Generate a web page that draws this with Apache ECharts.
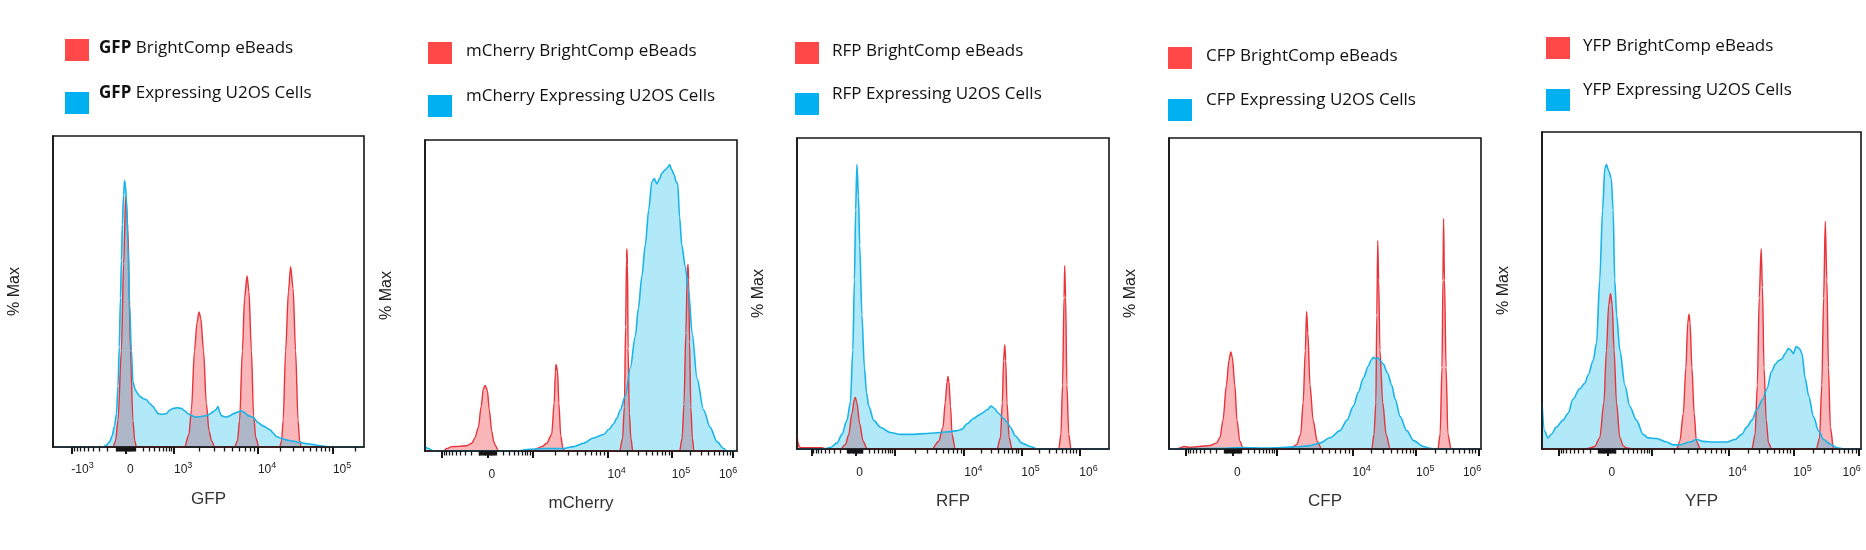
<!DOCTYPE html>
<html>
<head>
<meta charset="utf-8">
<script src="https://cdn.jsdelivr.net/npm/echarts@6/dist/echarts.min.js"></script>
<style>
  html, body { margin: 0; padding: 0; background: #fff; }
  #chart { width: 1866px; height: 550px; }
</style>
</head>
<body>
<div id="chart"></div>
<script>
// x is in display channels (0..1000 across each plot box), y is % of the box height

// fluorescence values used to calibrate the biex display of each panel
const scaleValues = [-1000, 0, 1000, 1e4, 1e5, 1e6];
const gfpScale = [59, 235, 389, 659, 900, 1141];
const mcherryScale = [53, 200, 344, 585, 791, 987];
const rfpScale = [46, 187, 312, 536, 719, 905];
const cfpScale = [53, 205, 345, 588, 792, 992];
const yfpScale = [52, 205, 343, 584, 788, 993];

// labelled ticks
const gfpTickLabels = [-1000, 0, 1000, 1e4, 1e5];
const otherTickLabels = [0, 1e4, 1e5, 1e6];

const gfpBeads = [[0,0],[193,0],[201,2],[209,8.5],[220,31],[227,59],[234,80.6],[241,70],[249,31],[257,8.5],[263,2],[268,0],
  [423,0],[437,4],[445,12],[455,31],[463,40],[469.5,43.4],[475,41.5],[484,31],[493,14],[502,5],[510,2],[520,0],
  [584,0],[593,2],[600,8.5],[609,31],[616,48],[624,55],[630,50],[638,31],[645,10],[652,3],[662,0],
  [729,0],[735,2],[740,8.5],[748,31],[757,50],[764,58],[772,51],[780,31],[788,8.5],[793,2],[798,0],[1000,0]];
const gfpCells = [[0,0],[161,0],[172,0.6],[182,1.7],[190,3.5],[198,6.8],[204,10.7],[209,19.7],[213,32],[217,48],[220,60],
  [223,71.6],[227,81],[230,85.7],[233,84],[236,80],[241,65],[246,46],[252,31],[257,21],[265,18.3],[272,17.2],[279,16.3],
  [290,15.6],[300,15.2],[311,14],[322,13],[330,11.8],[338,10.7],[350,10.5],[364,10.7],[375,11.8],[386,12.4],[400,12.6],
  [413,12.4],[424,11.6],[434,10.7],[447,10],[461,9.6],[477,9.8],[493,10.1],[504,10.6],[514,11.3],[524,12],[531,13],
  [536,11.2],[541,10.1],[549,9.8],[557,9.6],[568,10],[579,10.7],[593,11.2],[606,11.6],[617,11],[627,10.1],[643,9.6],
  [659,7.9],[675,6.8],[697,5.6],[708,4.5],[718,3.4],[734,2.8],[750,2.3],[771,1.9],[793,1.5],[815,1.1],[836,0.8],
  [852,0.5],[868,0.3],[890,0],[1000,0]];

const mcherryBeads = [[0,0],[60,0],[70,0.8],[86,1.4],[110,1.5],[134,1.7],[150,2.5],[160,4.2],[171,7.6],[180,14.3],[187,20],
  [192.5,21.1],[200,19.4],[206,13.2],[214,6.4],[220,3.2],[225,1.9],[235,0],
  [350,0],[358,0.8],[374,1.4],[390,2.5],[406,5.3],[414,15.4],[418,25.6],[420,27.8],[425,25.6],[429,15.4],[435,5],[442,0.8],[449,0],
  [624,0],[633,4],[639,14],[643,40],[646,62],[647,65],[649,60],[651,33],[655,12],[660,4],[666,0],
  [816,0],[824,4],[830,15],[836,38],[841,58],[843,60],[845,55],[848,35],[852,14],[857,4],[862,0],[1000,0]];
const mcherryCells = [[0,1.4],[10,0.8],[27,0],[300,0],[326,0.5],[380,0.8],[444,0.8],[476,1.4],[508,2.5],[540,4.2],[572,5.3],
  [590,7],[604,8.7],[615,10.5],[626,13.2],[642,17.7],[658,26.7],[674,36.9],[684,45.9],[695,56],[706,66.2],[717,77.5],
  [727,86.5],[735,87.6],[743,85.9],[752,87.6],[759,89.3],[770,90.4],[778,91.2],[784,92.1],[791,90.4],[799,88.7],
  [805,86.5],[810,85.9],[816,75.2],[823,66.2],[834,59.4],[845,51.5],[856,38],[872,23.3],[893,13.2],[914,7.6],[936,3],
  [957,0.8],[968,0],[1000,0]];

const rfpBeads = [[0,5],[3,2],[8,0.6],[16,0.4],[80,0.4],[95,0],[139,0],[155,1.4],[166,4.7],[176,11.5],[184,16],[187,16.6],
  [192,14.9],[201,8.1],[212,2.5],[224,0.2],[235,0],
  [433,0],[454,2.5],[468,7],[475,14.9],[481,21.6],[484,23.3],[487,21.6],[492,13.8],[497,4.7],[507,0],
  [641,0],[652,3.6],[658,14.9],[662,28.4],[666,33.5],[669,28.4],[673,14.9],[680,3.6],[689,0],
  [839,0],[846,4.7],[851,20.5],[856,48.7],[858,58.9],[861,48.7],[865,20.5],[871,4.7],[878,0],[1000,0]];
const rfpCells = [[0,0],[85,0],[107,0.5],[128,1.9],[144,4.7],[160,9.2],[171,14.9],[179,31.8],[184,54.3],[188,76.9],
  [192,91.5],[197,81.4],[201,65.6],[208,43.1],[216,26.2],[223,18],[230,13.8],[246,9.2],[267,7],[299,5.3],[331,4.7],
  [374,4.7],[417,5],[459,5.3],[491,5.6],[513,5.9],[529,6.4],[545,8.1],[566,9.8],[583,10.9],[593,11.5],[609,12.6],
  [622,13.8],[631,13.2],[646,11.5],[662,9.8],[673,8.7],[684,7],[700,4.2],[721,1.9],[748,0.8],[769,0],[1000,0]];

const cfpBeads = [[0,0],[25,0],[29,0.2],[50,0.8],[66,0.5],[98,0.8],[131,1.1],[152,1.9],[163,3.6],[173,9.2],[184,20.5],
  [192,28.4],[198,31.2],[203,29.5],[211,20.5],[218,9.2],[227,2.5],[238,0],
  [388,0],[409,1.4],[422,4.7],[430,14.9],[437,31.8],[441,44.2],[445,37.4],[452,20.5],[462,9.2],[475,2.5],[489,0],
  [650,0],[657,4.7],[663,14.9],[666,43.1],[669,67],[672,54.3],[676,31.8],[685,14.9],[696,4.7],[709,0],
  [862,0],[869,4.7],[875,26.2],[878,54.3],[880,74.1],[883,54.3],[888,26.2],[894,4.7],[904,0],[1000,0]];
const cfpCells = [[0,0],[184,0.2],[238,0.5],[313,0.3],[366,0.5],[409,0.7],[452,1.1],[484,1.9],[516,3.6],[548,5.9],
  [570,9.2],[591,13.8],[607,18.3],[623,22.8],[639,26.7],[648,28.6],[655,29.5],[662,29],[670,29.3],[677,28.4],
  [687,27.3],[700,24.5],[714,20.5],[725,16],[741,10.4],[762,5.9],[784,2.7],[816,0.8],[837,0.2],[859,0],[1000,0]];

const yfpBeads = [[0,0],[139,0],[150,0.3],[165,0.8],[181,3.5],[194,14.6],[202,31.2],[209,45.5],[215,49.1],[220,45.5],
  [226,31.2],[233.5,14.6],[244,3.5],[255,1],[265,0.3],[286,0],
  [422,0],[432,2.4],[443,11.3],[451,25.6],[457,40],[461,42.5],[464,40],[470,25.6],[477,11.3],[484,2.4],[497,0],
  [658,0],[668,4.6],[675,20.1],[681,47.7],[687,63.2],[691,51],[696,25.6],[703,9.1],[710,1.9],[720,0],
  [860,0],[870,3.5],[877,20.1],[883,47.7],[888,71.8],[893,53.3],[898,25.6],[904,6.9],[914,0],[1000,0]];
const yfpCells = [[0,14.6],[8,5.7],[19,3.5],[29,4.6],[45,6.9],[66,9.1],[82,11.3],[97,15.7],[118,19],[134,20.7],
  [145,23.4],[160,27.8],[171,33.4],[181,53.3],[190,75.4],[197,88.6],[202,89.7],[210,87.5],[217,85.3],[223,75.4],
  [228,53.3],[234,42.2],[244,31.2],[260,20.1],[275,13.5],[296,9.1],[317,4.6],[333,3.5],[359,3.3],[391,2.2],
  [412,1.3],[432,1.3],[464,2.2],[485,3],[506,2.4],[537,2.2],[579,2.2],[605,3],[626,4.6],[642,6.9],[658,9.1],
  [673,12.4],[692,15.7],[705,19],[720,24.5],[731,26.7],[741,27.8],[752,28.4],[762,30.1],[772,31.7],[780,31.2],
  [788,30.1],[797,32.3],[807,31.7],[815,30.1],[825,22.3],[836,16.8],[851,10.2],[867,5.7],[883,3],[904,1.5],
  [925,0.4],[946,0],[1000,0]];

const panels = [
  { name: 'GFP', axisName: 'GFP', scale: gfpScale, labels: gfpTickLabels, beads: gfpBeads, cells: gfpCells, bold: true },
  { name: 'mCherry', axisName: 'mCherry', scale: mcherryScale, labels: otherTickLabels, beads: mcherryBeads, cells: mcherryCells },
  { name: 'RFP', axisName: 'RFP', scale: rfpScale, labels: otherTickLabels, beads: rfpBeads, cells: rfpCells },
  { name: 'CFP', axisName: 'CFP', scale: cfpScale, labels: otherTickLabels, beads: cfpBeads, cells: cfpCells },
  { name: 'YFP', axisName: 'YFP', scale: yfpScale, labels: otherTickLabels, beads: yfpBeads, cells: yfpCells },
];

// plot boxes and legend placement
const layout = [
  { left: 53, top: 136, width: 311, height: 311, legendLeft: 65, legendTop: [39, 92], textGap: 5, labelMargin: 8 },
  { left: 425, top: 140, width: 312, height: 311, legendLeft: 428, legendTop: [42, 95], textGap: 9, labelMargin: 9 },
  { left: 797, top: 138, width: 312, height: 311, legendLeft: 795, legendTop: [42, 93], textGap: 8, labelMargin: 9 },
  { left: 1169, top: 138, width: 312, height: 311, legendLeft: 1168, legendTop: [47, 99], textGap: 9, labelMargin: 9 },
  { left: 1542, top: 132, width: 319, height: 317, legendLeft: 1546, legendTop: [37, 89], textGap: 8, labelMargin: 9 },
];

const beadsSwatch = '#ff4848';
const cellsSwatch = '#00b0f0';
const axisFont = 'Liberation Sans';
const legendFont = 'Open Sans';
const labelRoom = 58; // channels a "10^n" label needs before the right edge

// biex-like display: log between decades, asinh through zero
function toChannel(scale, v) {
  for (let i = 0; i < scaleValues.length - 1; i++) {
    const a = scaleValues[i], b = scaleValues[i + 1];
    if (v < a || v > b) continue;
    const pa = scale[i], pb = scale[i + 1];
    if (a > 0) return pa + (pb - pa) * Math.log10(v / a);
    const w = 250;
    if (a === 0) return pa + (pb - pa) * Math.asinh(v / w) / Math.asinh(b / w);
    return pb + (pa - pb) * Math.asinh(-v / w) / Math.asinh(-a / w);
  }
  return NaN;
}

function inBox(p) { return p >= 0 && p <= 1000; }

function majorTicks(scale) {
  return scaleValues.map(v => toChannel(scale, v)).filter(inBox);
}

function minorTicks(scale) {
  const out = [];
  for (let k = 1; k <= 5; k++) {
    for (let m = 1; m <= 9; m++) {
      const v = m * Math.pow(10, k);
      [v, -v].forEach(x => {
        if (scaleValues.indexOf(x) >= 0) return;
        const p = toChannel(scale, x);
        if (inBox(p)) out.push(p);
      });
    }
  }
  return out;
}

// labels start at their tick (pushed back inside near the right edge), exponent raised
function tickText(v) {
  if (v === 0) return '{z|0}';
  const exp = Math.round(Math.log10(Math.abs(v)));
  return '{n|' + (v < 0 ? '-' : '') + '10}{s|' + exp + '}';
}

const chart = echarts.init(document.getElementById('chart'));

const grid = [], xAxis = [], yAxis = [], series = [], legend = [];

panels.forEach((p, i) => {
  const L = layout[i];
  const labelList = p.labels.map(v => ({
    pos: Math.min(toChannel(p.scale, v), 1000 - labelRoom),
    text: tickText(v),
  }));

  grid.push({
    left: L.left, top: L.top, width: L.width, height: L.height, outerBoundsMode: 'none',
    show: true, borderColor: '#161616', borderWidth: 1.6, backgroundColor: 'transparent',
  });

  xAxis.push({
    type: 'value', gridIndex: i, position: 'bottom', min: 0, max: 1000, z: 5,
    name: p.axisName, nameLocation: 'middle', nameGap: 44,
    nameTextStyle: { fontFamily: axisFont, fontSize: 17, color: '#333' },
    axisLine: { show: true, onZero: false, lineStyle: { color: '#161616', width: 1.6 } },
    axisTick: { show: true, customValues: majorTicks(p.scale), length: 7, lineStyle: { color: '#161616', width: 2 } },
    axisLabel: {
      show: true, customValues: labelList.map(l => l.pos), margin: L.labelMargin, align: 'left',
      hideOverlap: false,
      formatter: val => {
        const hit = labelList.find(l => Math.abs(l.pos - val) < 0.01);
        return hit ? hit.text : '';
      },
      rich: {
        z: { fontFamily: axisFont, fontSize: 12, color: '#222', padding: [9, 0, 0, 1] },
        n: { fontFamily: axisFont, fontSize: 12, color: '#222', padding: [9, 0, 0, 0] },
        s: { fontFamily: axisFont, fontSize: 9, color: '#222', padding: [0, 0, 0, 0] },
      },
    },
    splitLine: { show: false },
  });
  xAxis.push({
    type: 'value', gridIndex: i, position: 'bottom', min: 0, max: 1000, z: 5,
    axisLine: { show: false },
    axisTick: { show: true, customValues: minorTicks(p.scale), length: 4.5, lineStyle: { color: '#161616', width: 1.3 } },
    axisLabel: { show: false },
    splitLine: { show: false },
  });

  yAxis.push({
    type: 'value', gridIndex: i, min: 0, max: 100, z: 5,
    name: '% Max', nameLocation: 'middle', nameGap: 30, nameRotate: 90,
    nameTextStyle: { fontFamily: axisFont, fontSize: 16, color: '#222' },
    axisLine: { show: true, lineStyle: { color: '#161616', width: 1.6 } },
    axisTick: { show: false }, axisLabel: { show: false }, splitLine: { show: false },
  });

  const beadsName = p.name + ' BrightComp eBeads';
  const cellsName = p.name + ' Expressing U2OS Cells';

  series.push({
    name: beadsName, type: 'line', xAxisIndex: 2 * i, yAxisIndex: i,
    data: p.beads, showSymbol: false, smooth: 0.3, smoothMonotone: 'x',
    lineStyle: { color: '#e8333a', width: 1.4 },
    itemStyle: { color: beadsSwatch },
    areaStyle: { color: 'rgba(238, 52, 58, 0.5)' },
  });
  series.push({
    name: cellsName, type: 'line', xAxisIndex: 2 * i, yAxisIndex: i,
    data: p.cells, showSymbol: false, smooth: 0.3, smoothMonotone: 'x',
    lineStyle: { color: '#1ab4e8', width: 1.6 },
    itemStyle: { color: cellsSwatch },
    areaStyle: { color: 'rgba(0, 184, 236, 0.44)' },
  });

  // text sits a little above the swatch centre, more so on the second row
  [[beadsName, beadsSwatch, 4], [cellsName, cellsSwatch, 20]].forEach(([name, color, lift], row) => {
    const boxH = 18 + lift;
    legend.push({
      left: L.legendLeft, top: L.legendTop[row] - Math.max(0, (boxH - 22) / 2),
      padding: 0, orient: 'vertical', icon: 'rect', itemWidth: 24, itemHeight: 22, selectedMode: false,
      itemStyle: { borderWidth: 0 },
      data: [{ name: name, itemStyle: { color: color, borderWidth: 0 } }],
      formatter: n => p.bold ? '{b|' + p.name + '}' + n.slice(p.name.length) : n,
      textStyle: {
        fontFamily: legendFont, fontSize: 17, lineHeight: 18, color: '#111',
        padding: [0, 0, lift, L.textGap],
        rich: { b: { fontFamily: legendFont, fontSize: 17, lineHeight: 18, fontWeight: 'bold', color: '#111' } },
      },
    });
  });
});

chart.setOption({
  animation: false,
  backgroundColor: '#fff',
  grid, xAxis, yAxis, series, legend,
});
</script>
</body>
</html>
